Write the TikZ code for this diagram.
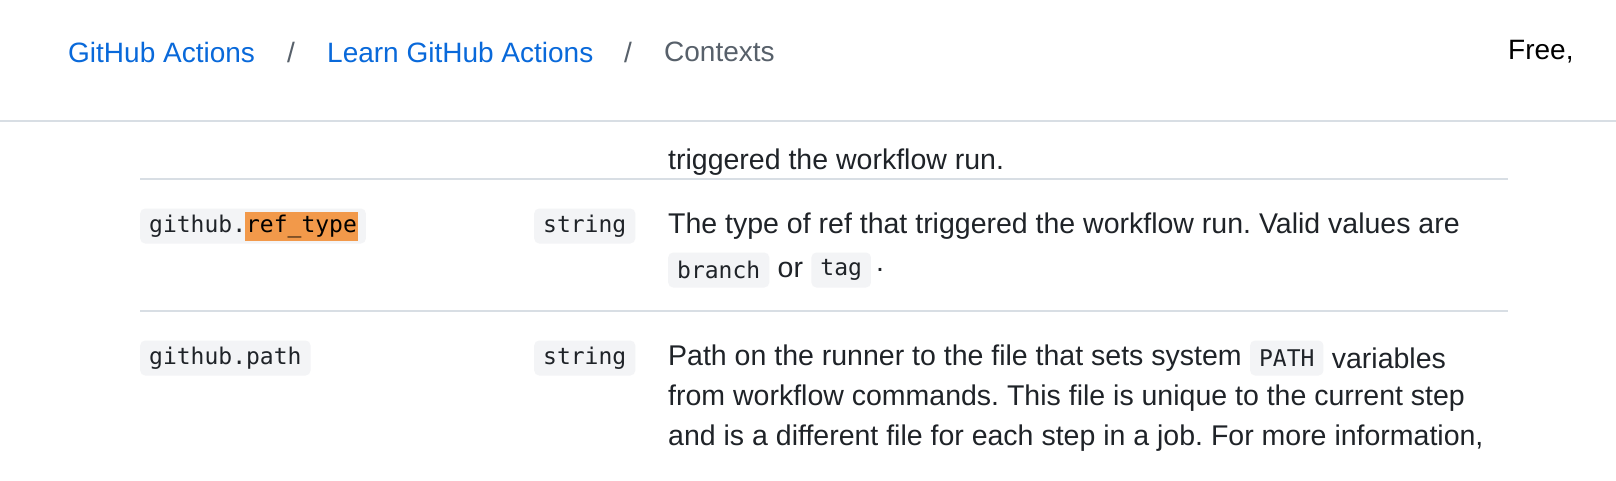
\documentclass[tikz,border=0pt]{standalone}
\usepackage{fontspec}
\setmainfont{Liberation Sans}
\setmonofont{DejaVu Sans Mono}
\usetikzlibrary{positioning}
\frenchspacing
\definecolor{ghblue}{HTML}{0969DA}
\definecolor{ghgray}{HTML}{57606A}
\definecolor{ghtext}{HTML}{1F2328}
\definecolor{codebg}{HTML}{F3F4F6}
\definecolor{rule}{HTML}{D8DEE4}
\definecolor{hilite}{HTML}{F2994A}
\tikzset{
  crumb/.style={anchor=west,inner sep=0pt,font=\fontsize{28}{32}\selectfont},
  body/.style={anchor=west,inner sep=0pt,text=ghtext,font=\fontsize{28.5}{32}\selectfont},
  code/.style={anchor=west,fill=codebg,rounded corners=5pt,inner xsep=9pt,
    minimum height=35pt,text=ghtext,font=\ttfamily\fontsize{23}{26}\selectfont},
}
\begin{document}
\begin{tikzpicture}[x=1pt,y=-1pt]
    \useasboundingbox (0,0) rectangle (1616,480);
    \clip (0,0) rectangle (1616,480);
    \fill[white] (0,0) rectangle (1616,480);
    % header
    \draw[rule,line width=1.5pt] (0,121) -- (1616,121);
    \node[crumb,text=ghblue] (crumb1) at (68,52) {GitHub Actions};
    \node[crumb,text=ghgray] (sep1) at (287,52) {/};
    \node[crumb,text=ghblue] (crumb2) at (327,52) {Learn GitHub Actions};
    \node[crumb,text=ghgray] (sep2) at (624,52) {/};
    \node[crumb,text=ghgray] (crumb3) at (664,52) {Contexts};
    \node[crumb,text=black] (free) at (1508,52) {Free,};
    % previous row tail
    \node[body] (prev) at (668,162) {triggered the workflow run.};
    \draw[rule,line width=1.2pt] (140,179) -- (1508,179);
    % row ref_type
    \node[code] (reftype) at (140,226) {github.\phantom{ref\_type}};
    \node[anchor=east,fill=hilite,inner xsep=1pt,inner ysep=0pt,minimum height=29pt,
      font=\ttfamily\fontsize{23}{26}\selectfont] (hl) at ([xshift=-8pt]reftype.east) {ref\_type};
    \node[code] (type1) at (534,226) {string};
    \node[body] (desc1) at (668,226) {The type of ref that triggered the workflow run. Valid values are};
    \node[code] (branch) at (668,270) {branch};
    \node[body,right=8pt of branch] (or) {or};
    \node[code,right=8pt of or] (tag) {tag};
    \node[body] (dot) at (tag.east) {\,.};
    \draw[rule,line width=1.2pt] (140,311) -- (1508,311);
    % row path
    \node[code] (path) at (140,358) {github.path};
    \node[code] (type2) at (534,358) {string};
    \node[body] (desc2a) at (668,358) {Path on the runner to the file that sets system};
    \node[code,right=8pt of desc2a] (pathvar) {PATH};
    \node[body,right=8pt of pathvar] (desc2b) {variables};
    \node[body] (desc2c) at (668,398) {from workflow commands. This file is unique to the current step};
    \node[body] (desc2d) at (668,438) {and is a different file for each step in a job. For more information,};
\end{tikzpicture}
\end{document}
